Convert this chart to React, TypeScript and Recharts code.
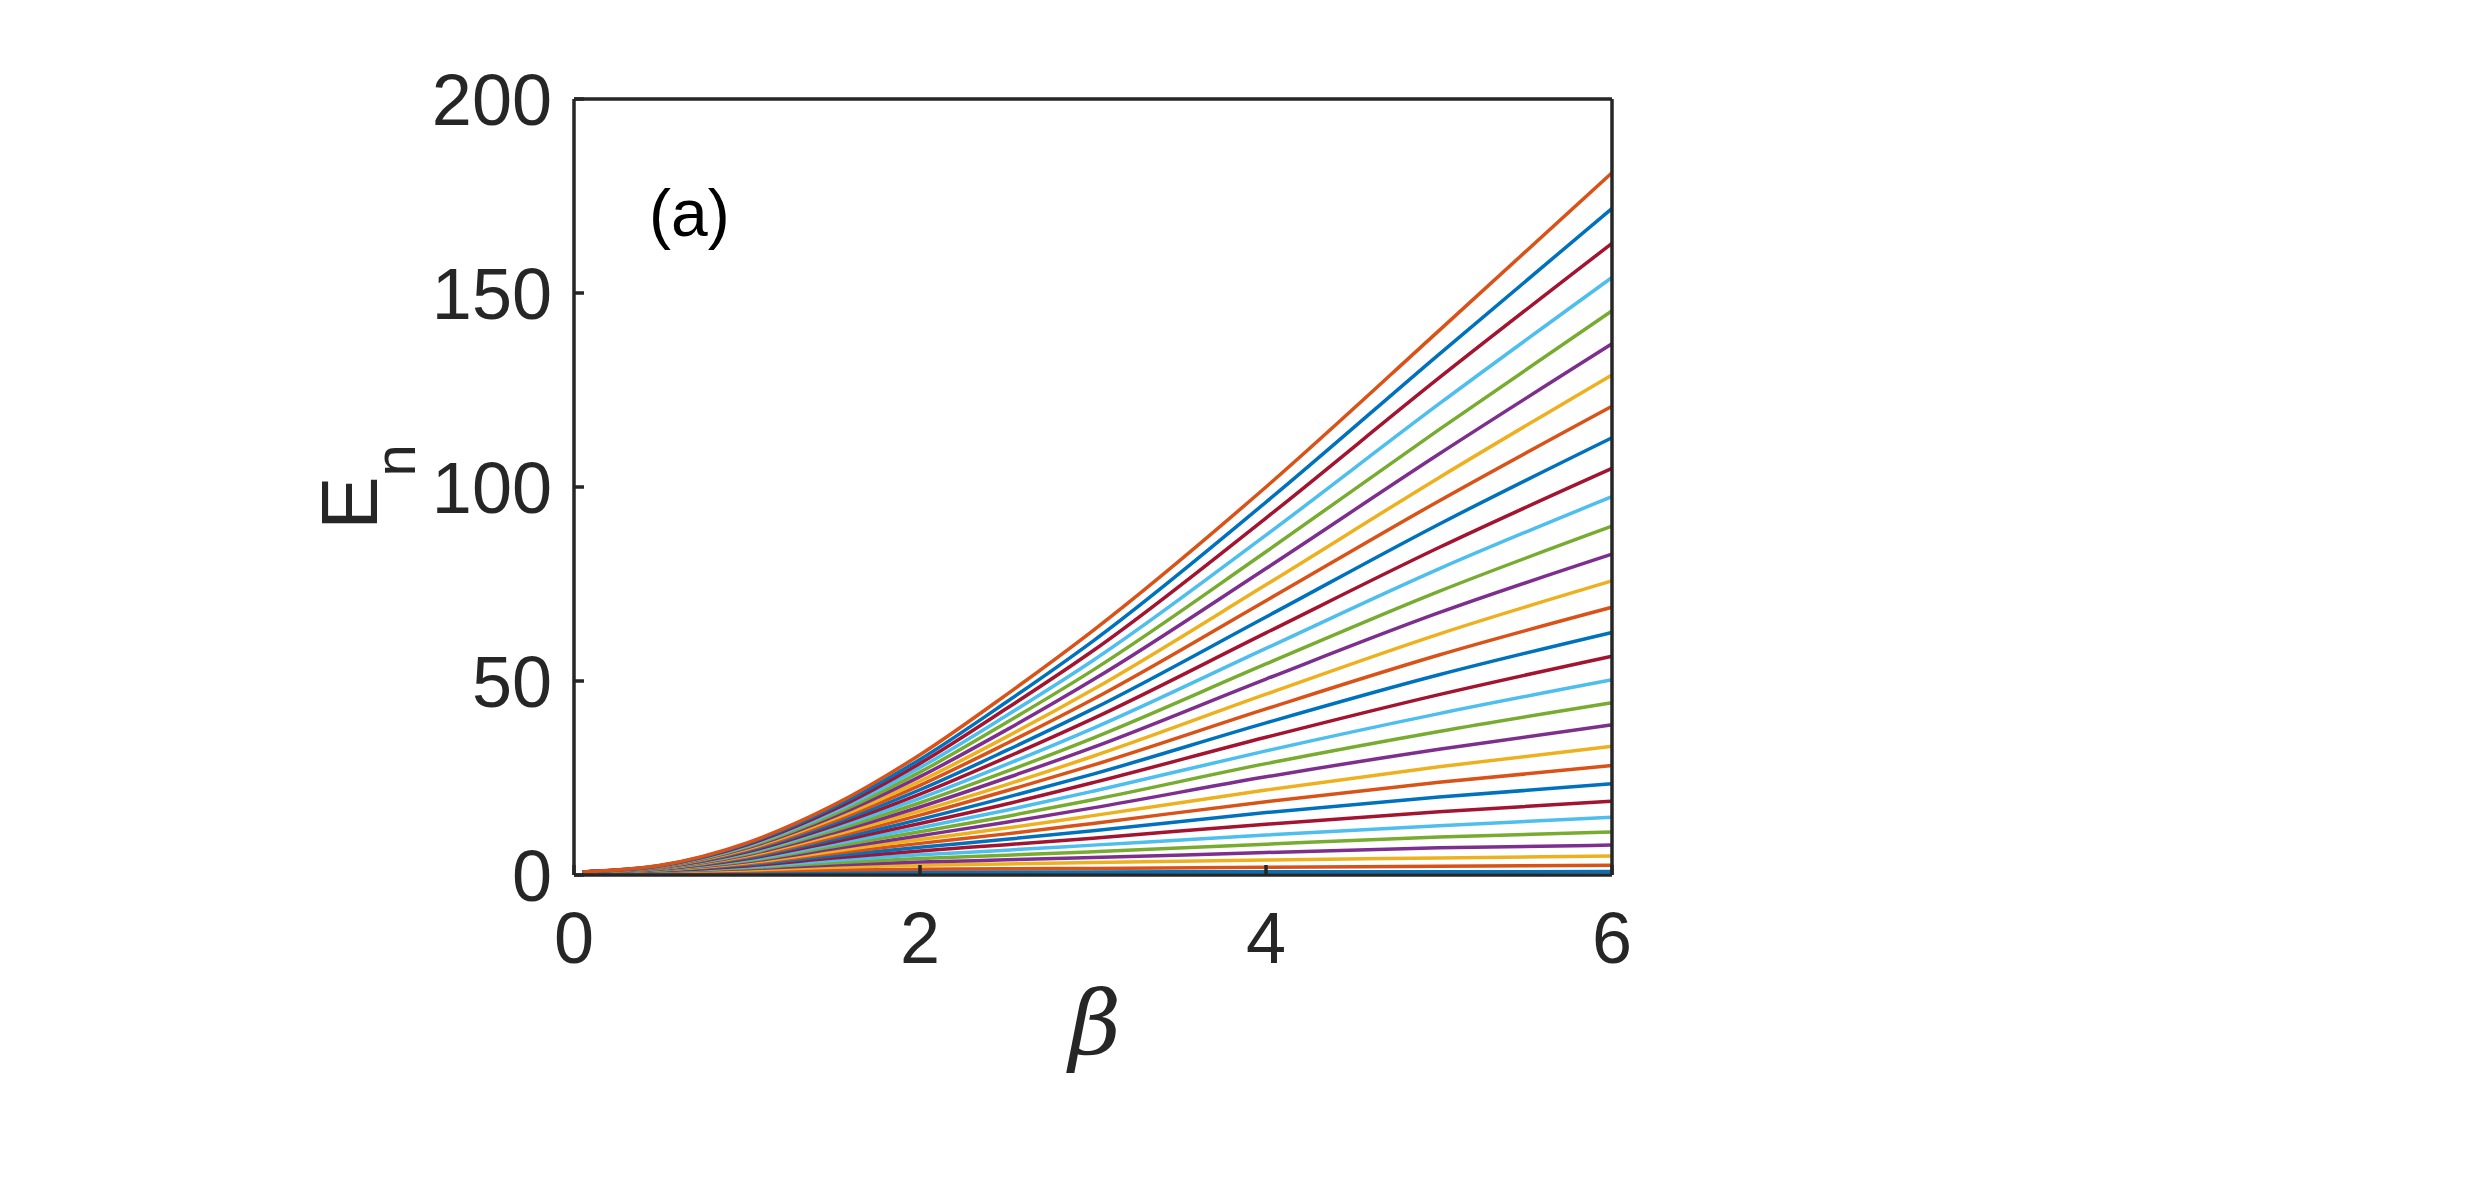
import React from 'react';
import { LineChart, Line, XAxis, YAxis } from 'recharts';

// beta sample points and the 30 energy levels (E1 = lowest)
const betaValues = [0.05, 0.5, 1, 1.5, 2, 2.5, 3, 4, 5, 6];

const level01 = [0.8, 0.8, 0.8, 0.8, 0.8, 0.8, 0.8, 0.85, 0.85, 0.9];
const level02 = [0.8, 0.86, 1.06, 1.3, 1.5, 1.6, 1.7, 2.0, 2.25, 2.5];
const level03 = [0.8, 0.92, 1.32, 1.99, 2.51, 2.85, 3.2, 3.85, 4.4, 4.9];
const level04 = [0.8, 0.98, 1.58, 2.58, 3.34, 3.9, 4.5, 5.8, 7.0, 7.7];
const level05 = [0.8, 1.03, 1.84, 3.17, 4.27, 5.1, 6.0, 7.95, 9.8, 11.1];
const level06 = [0.8, 1.09, 2.09, 3.76, 5.19, 6.4, 7.7, 10.3, 12.7, 14.9];
const level07 = [0.8, 1.15, 2.35, 4.36, 6.21, 7.8, 9.5, 13.1, 16.3, 19.0];
const level08 = [0.8, 1.21, 2.61, 4.95, 7.17, 9.2, 11.4, 16.1, 20.1, 23.5];
const level09 = [0.8, 1.27, 2.87, 5.55, 8.15, 10.6, 13.3, 18.9, 23.9, 28.2];
const level10 = [0.8, 1.33, 3.13, 6.13, 9.15, 12.1, 15.3, 21.9, 27.9, 33.2];
const level11 = [0.8, 1.39, 3.39, 6.73, 10.13, 13.6, 17.3, 25.3, 32.4, 38.7];
const level12 = [0.8, 1.44, 3.64, 7.32, 11.14, 15.1, 19.4, 28.7, 37.0, 44.4];
const level13 = [0.8, 1.5, 3.9, 7.92, 12.2, 16.7, 21.6, 32.0, 41.6, 50.3];
const level14 = [0.8, 1.56, 4.16, 8.51, 13.27, 18.3, 23.8, 35.5, 46.5, 56.4];
const level15 = [0.8, 1.62, 4.42, 9.11, 14.33, 20.0, 26.0, 39.2, 51.6, 62.5];
const level16 = [0.8, 1.68, 4.68, 9.69, 15.42, 21.7, 28.3, 42.8, 56.7, 69.0];
const level17 = [0.8, 1.74, 4.94, 10.29, 16.49, 23.3, 30.6, 46.6, 62.1, 75.8];
const level18 = [0.8, 1.8, 5.2, 10.88, 17.53, 25.0, 32.9, 50.5, 67.6, 82.7];
const level19 = [0.8, 1.86, 5.46, 11.48, 18.62, 26.7, 35.3, 54.4, 73.1, 89.9];
const level20 = [0.8, 1.91, 5.71, 12.07, 19.75, 28.5, 37.8, 58.4, 78.9, 97.5];
const level21 = [0.8, 1.97, 5.97, 12.67, 20.85, 30.3, 40.3, 62.4, 84.4, 104.8];
const level22 = [0.8, 2.03, 6.23, 13.25, 21.97, 32.1, 42.8, 66.5, 90.4, 112.7];
const level23 = [0.8, 2.09, 6.49, 13.85, 23.12, 33.9, 45.3, 70.7, 96.4, 120.8];
const level24 = [0.8, 2.15, 6.75, 14.44, 24.21, 35.6, 47.8, 74.8, 102.4, 128.9];
const level25 = [0.8, 2.21, 7.01, 15.04, 25.35, 37.4, 50.3, 79.0, 108.5, 136.9];
const level26 = [0.8, 2.27, 7.27, 15.63, 26.52, 39.3, 52.8, 83.3, 114.8, 145.4];
const level27 = [0.8, 2.32, 7.53, 16.23, 27.68, 41.1, 55.3, 87.6, 121.4, 154.0];
const level28 = [0.8, 2.38, 7.78, 16.81, 28.77, 42.9, 57.8, 92.0, 128.1, 162.8];
const level29 = [0.8, 2.44, 8.04, 17.42, 29.79, 44.6, 60.3, 96.1, 134.2, 171.8];
const level30 = [0.8, 2.5, 8.3, 18.0, 31.0, 46.5, 63.0, 100.0, 140.3, 181.0];

const levels = [
  level01, level02, level03, level04, level05, level06, level07, level08, level09, level10,
  level11, level12, level13, level14, level15, level16, level17, level18, level19, level20,
  level21, level22, level23, level24, level25, level26, level27, level28, level29, level30,
];

// matlab default color order
const lineColors = ['#0072BD', '#D95319', '#EDB120', '#7E2F8E', '#77AC30', '#4DBEEE', '#A2142F'];

const xTicks = [0, 2, 4, 6];
const yTicks = [0, 50, 100, 150, 200];

const data = betaValues.map((beta, i) => {
  const row: Record<string, number> = { beta };
  levels.forEach((lv, n) => {
    row[`E${n + 1}`] = lv[i];
  });
  return row;
});

const axisColor = '#262626';
const sansFont = '"Liberation Sans", Arial, Helvetica, sans-serif';
const axisLineStyle = { stroke: axisColor, strokeWidth: 3.5 };
const tickStyle = { fill: axisColor, fontSize: 72, fontFamily: sansFont };

export default function App() {
  return (
    <div style={{ position: 'absolute', left: 0, top: 0, width: 2470, height: 1184, background: '#fff' }}>
      <LineChart
        width={2470}
        height={1184}
        data={data}
        margin={{ top: 98, right: 857, bottom: 308, left: 573 }}
      >
        <XAxis
          xAxisId="bottom"
          dataKey="beta"
          type="number"
          domain={[0, 6]}
          ticks={xTicks}
          interval={0}
          orientation="bottom"
          height={1}
          tickSize={-10}
          tickMargin={47}
          axisLine={axisLineStyle}
          tickLine={axisLineStyle}
          tick={tickStyle}
        />
        <XAxis
          xAxisId="top"
          dataKey="beta"
          type="number"
          domain={[0, 6]}
          ticks={xTicks}
          interval={0}
          orientation="top"
          height={1}
          tickSize={-10}
          axisLine={axisLineStyle}
          tickLine={axisLineStyle}
          tick={false}
        />
        <YAxis
          yAxisId="left"
          type="number"
          domain={[0, 200]}
          ticks={yTicks}
          interval={0}
          orientation="left"
          width={1}
          tickSize={-10}
          tickMargin={32}
          axisLine={axisLineStyle}
          tickLine={axisLineStyle}
          tick={tickStyle}
        />
        <YAxis
          yAxisId="right"
          type="number"
          domain={[0, 200]}
          ticks={yTicks}
          interval={0}
          orientation="right"
          width={1}
          tickSize={-10}
          axisLine={axisLineStyle}
          tickLine={axisLineStyle}
          tick={false}
        />
        {levels.map((_, n) => (
          <Line
            key={n}
            xAxisId="bottom"
            yAxisId="left"
            type="monotone"
            dataKey={`E${n + 1}`}
            stroke={lineColors[n % lineColors.length]}
            strokeWidth={3.5}
            dot={false}
            activeDot={false}
            isAnimationActive={false}
          />
        ))}
      </LineChart>
      <svg
        width={2470}
        height={1184}
        style={{ position: 'absolute', left: 0, top: 0, pointerEvents: 'none' }}
      >
        <text x={649} y={236} fontSize={66} fontFamily={sansFont} fill="#000">
          (a)
        </text>
        <text
          transform="translate(377,487) rotate(-90)"
          textAnchor="middle"
          fontSize={80}
          fontFamily={sansFont}
          fill={axisColor}
        >
          E
          <tspan fontSize={58} dy={38}>
            n
          </tspan>
        </text>
        <text
          x={1095}
          y={1054}
          textAnchor="middle"
          fontSize={90}
          fontStyle="italic"
          fontFamily='"DejaVu Serif", "Liberation Serif", serif'
          fontWeight={300}
          fill={axisColor}
        >
          β
        </text>
      </svg>
    </div>
  );
}
